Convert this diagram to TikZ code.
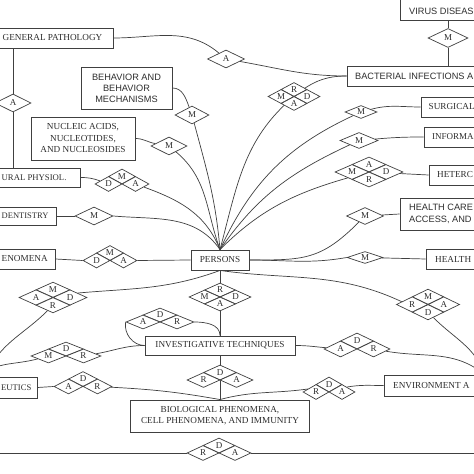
\documentclass[tikz,border=0pt]{standalone}
\usepackage{fontspec}
\setmainfont{Liberation Serif}
\newfontfamily\sansf{Liberation Sans}
\usetikzlibrary{shapes.geometric,calc}
\pgfdeclarelayer{back}
\pgfdeclarelayer{lines}
\pgfsetlayers{back,lines,main}
\definecolor{linec}{gray}{0.25}
\definecolor{txtc}{gray}{0.18}
\tikzset{
  box/.style={draw=linec, line width=0.9pt, fill=white, inner sep=0pt, font=\fontsize{9.2}{11}\selectfont, text=txtc, align=center},
  sbox/.style={box, font=\sansf\fontsize{9.2}{11}\selectfont},
  lbl/.style={inner sep=0pt, font=\fontsize{9.2}{11}\selectfont, text=txtc},
  slbl/.style={lbl, font=\sansf\fontsize{9.2}{12}\selectfont},
  dm/.style 2 args={diamond, aspect=2, draw=linec, line width=0.7pt, fill=white, inner sep=0pt, minimum width=#1, minimum height=#2, font=\fontsize{9}{9}\selectfont, text=txtc},
  conn/.style={draw=linec, line width=0.7pt},
}
\newcommand\dpart[6]{\if\relax\detokenize{#6}\relax\else\node[dm={2*#4}{2*#5}] (#1) at ({#2},{#3}) {#6};\fi}
\newcommand\cdia[9]{\coordinate (#1) at (#2,#3);
  \dpart{#1-t}{#2}{#3+#5}{#4}{#5}{#6}
  \dpart{#1-l}{#2-#4}{#3}{#4}{#5}{#7}
  \dpart{#1-r}{#2+#4}{#3}{#4}{#5}{#8}
  \dpart{#1-b}{#2}{#3-#5}{#4}{#5}{#9}}
\begin{document}
\begin{tikzpicture}[x=1pt,y=1pt]
\useasboundingbox (0,0) rectangle (474,474);
\begin{pgfonlayer}{back}
\fill[white] (0,0) rectangle (474,474);
\end{pgfonlayer}
\clip (0,0) rectangle (474,474);
% ---------- boxes
\node[box, minimum width=121, minimum height=20] (gp) at (52.5,436) {GENERAL PATHOLOGY};
\node[sbox, minimum width=91, minimum height=42] (beh) at (126.5,386) {BEHAVIOR AND\\BEHAVIOR\\MECHANISMS};
\node[box, minimum width=104, minimum height=43, font=\fontsize{9.2}{11.5}\selectfont] (nuc) at (83,335.5) {NUCLEIC ACIDS,\\NUCLEOTIDES,\\AND NUCLEOSIDES};
\node[box, minimum width=95, minimum height=19] (ural) at (32.5,296.5) {};
\node[lbl, anchor=west, font=\fontsize{8.7}{10}\selectfont] (uralt) at (1.5,296.5) {URAL PHYSIOL.};
\node[box, minimum width=71, minimum height=18] (dent) at (20.5,258) {};
\node[lbl, anchor=west, font=\fontsize{8.5}{10}\selectfont] (dentt) at (1.5,258) {DENTISTRY};
\node[box, minimum width=70, minimum height=20] (enom) at (20,215) {};
\node[lbl, anchor=west] (enomt) at (1.5,215) {ENOMENA};
\node[box, minimum width=58, minimum height=20] (pers) at (220,214) {PERSONS};
\node[box, minimum width=120, minimum height=25] (virus) at (460,466.5) {};
\node[slbl, anchor=west] (virust) at (409,463) {VIRUS DISEAS};
\node[box, minimum width=173, minimum height=20] (bact) at (433.5,398) {};
\node[slbl, anchor=west] (bactt) at (355,398) {BACTERIAL INFECTIONS A};
\node[box, minimum width=99, minimum height=20] (surg) at (470.5,367) {};
\node[lbl, anchor=west] (surgt) at (428.5,367) {SURGICAL};
\node[box, minimum width=96, minimum height=20] (info) at (472,337) {};
\node[lbl, anchor=west, font=\fontsize{9}{11}\selectfont] (infot) at (432,337) {INFORMA};
\node[box, minimum width=91, minimum height=20] (het) at (474.5,299) {};
\node[lbl, anchor=west] (hett) at (437,299) {HETERC};
\node[box, minimum width=120, minimum height=32] (hca) at (460,260) {};
\node[slbl, anchor=west, align=left] (hcat) at (409,260) {HEALTH CARE\\ACCESS, AND};
\node[box, minimum width=94, minimum height=20] (health) at (473,215) {};
\node[lbl, anchor=west] (healtht) at (435,215) {HEALTH};
\node[box, minimum width=150, minimum height=19] (inv) at (220,128.5) {INVESTIGATIVE TECHNIQUES};
\node[box, minimum width=77, minimum height=21] (eut) at (-1.5,86.5) {};
\node[lbl, anchor=west, font=\fontsize{8.6}{10}\selectfont] (eutt) at (1,86.5) {EUTICS};
\node[box, minimum width=179, minimum height=32] (bio) at (220,58) {BIOLOGICAL PHENOMENA,\\CELL PHENOMENA, AND IMMUNITY};
\node[box, minimum width=136, minimum height=21] (env) at (452,88.5) {};
\node[lbl, anchor=west] (envt) at (393,88.5) {ENVIRONMENT A};
% free ends
\coordinate (envin) at (485,99);
\coordinate (therA) at (-14,97);
\coordinate (therB) at (-22,97);
\coordinate (bl) at (-5,21);
\coordinate (br) at (480,21);
% ---------- single diamonds
\node[dm={36}{18}] (a1) at (13,371) {A};
\node[dm={37}{18}] (a2) at (226,415) {A};
\node[dm={34}{18}] (mbeh) at (192,359) {M};
\node[dm={36}{18}] (mnuc) at (169,328) {M};
\node[dm={38}{18}] (mdent) at (94,258) {M};
\node[dm={40}{19}] (mvir) at (448,436) {M};
\node[dm={32}{13}] (msurg) at (361,362) {M};
\node[dm={38}{16}] (minfo) at (359,333.5) {M};
\node[dm={37}{17}] (mhca) at (365,258) {M};
\node[dm={36}{12}] (mhl) at (365,216.5) {M};
% ---------- composite diamonds
\cdia{uq}{122}{290}{13.5}{7.5}{M}{D}{A}{}
\cdia{eq}{110}{213.5}{13.5}{7.5}{M}{D}{A}{}
\cdia{bq}{294}{377.5}{13}{7}{R}{M}{D}{A}
\cdia{hq}{369}{302}{17}{7.5}{A}{M}{D}{R}
\cdia{pq}{220}{177}{15.5}{7}{R}{M}{D}{A}
\cdia{lq}{53}{176.5}{17}{7.7}{M}{A}{D}{R}
\cdia{rq}{428}{169.5}{15.8}{7.7}{M}{R}{A}{D}
\cdia{lp}{160}{152}{17}{7}{D}{A}{R}{}
\cdia{lt}{66}{118}{17.5}{7}{D}{M}{R}{}
\cdia{ir}{357}{125}{16.5}{8}{D}{A}{R}{}
\cdia{et}{83}{87.5}{14.5}{7.5}{D}{A}{R}{}
\cdia{ib}{220}{94}{16.5}{7.5}{D}{R}{A}{}
\cdia{nt}{329}{82}{13}{7.5}{D}{R}{A}{}
\cdia{bt}{219}{21}{16}{7.5}{D}{R}{A}{}
% ---------- connectors
\begin{pgfonlayer}{lines}
\path[conn] (gp.east) to[out=0, in=140] (a2);
\path[conn] (a2) to[out=-10, in=180] (bact.west);
\path[conn] (gp.south -| a1) -- (a1) -- (ural.north -| a1);
\path[conn] (virus.south -| mvir) -- (mvir) -- (bact.north -| mvir);
\path[conn] (beh.east) to[out=0, in=110] (mbeh);
\path[conn] (mbeh) to[out=-75, in=95] (pers.north);
\path[conn] (nuc.east) to[out=0, in=170] (mnuc);
\path[conn] (mnuc) to[out=-40, in=110] (pers.north);
\path[conn] (ural.east) to[out=0, in=160] (uq-l);
\path[conn] (uq-r) to[out=-20, in=112] (pers.north);
\path[conn] (dent.east) -- (mdent);
\path[conn] (mdent.east) to[out=-5, in=125] (pers.north);
\path[conn] (enom.east) -- (eq-l.west);
\path[conn] (eq-r.east) -- (pers.west);
\path[conn] (bact.west) to[out=180, in=40] (bq);
\path[conn] (bq) to[out=220, in=75] (pers.north);
\path[conn] (surg.west) to[out=180, in=15] (msurg);
\path[conn] (msurg) to[out=-155, in=65] (pers.north);
\path[conn] (info.west) to[out=180, in=5] (minfo);
\path[conn] (minfo) to[out=-155, in=55] (pers.north);
\path[conn] (het.west) -- (hq);
\path[conn] (hq) to[out=195, in=45] (pers.north);
\path[conn] (hca.west) -- (mhca);
\path[conn] (mhca) to[out=225, in=0, looseness=1.2] (pers.east);
\path[conn] (health.west) -- (mhl);
\path[conn] (mhl.west) to[out=190, in=0] (pers.east);
\path[conn] (pers.south) -- (inv.north);
\path[conn] (pers.south) to[out=200, in=5] (lq-r.30);
\path[conn] (pers.south) to[out=-8, in=155] (rq-l.165);
\path[conn] (rq-b) to[out=-45, in=110] (envin);
\path[conn] (lq-b) to[out=-135, in=70] (therA);
\path[conn] (inv.west) to[out=180, in=10] (lt-r);
\path[conn] (lt-l) to[out=195, in=40] (therB);
\path[conn] (lp-r.east) to[out=0, in=90] (inv.north);
\path[conn] (lp-l.west) to[out=-100, in=180] (inv.west);
\path[conn] (inv.south) -- (bio.north);
\path[conn] (inv.east) to[out=0, in=175] (ir-l);
\path[conn] (ir-r) to[out=-10, in=140] (envin);
\path[conn] (eut.east) -- (et-l.west);
\path[conn] (et-r) to[out=-3, in=170] (bio.north);
\path[conn] (env.west) to[out=180, in=10] (nt-r.45);
\path[conn] (nt-l.160) to[out=188, in=15] (bio.north);
\path[conn] (bl) -- (bt-l.west);
\path[conn] (bt-r.east) -- (br);
\end{pgfonlayer}
\end{tikzpicture}
\end{document}
